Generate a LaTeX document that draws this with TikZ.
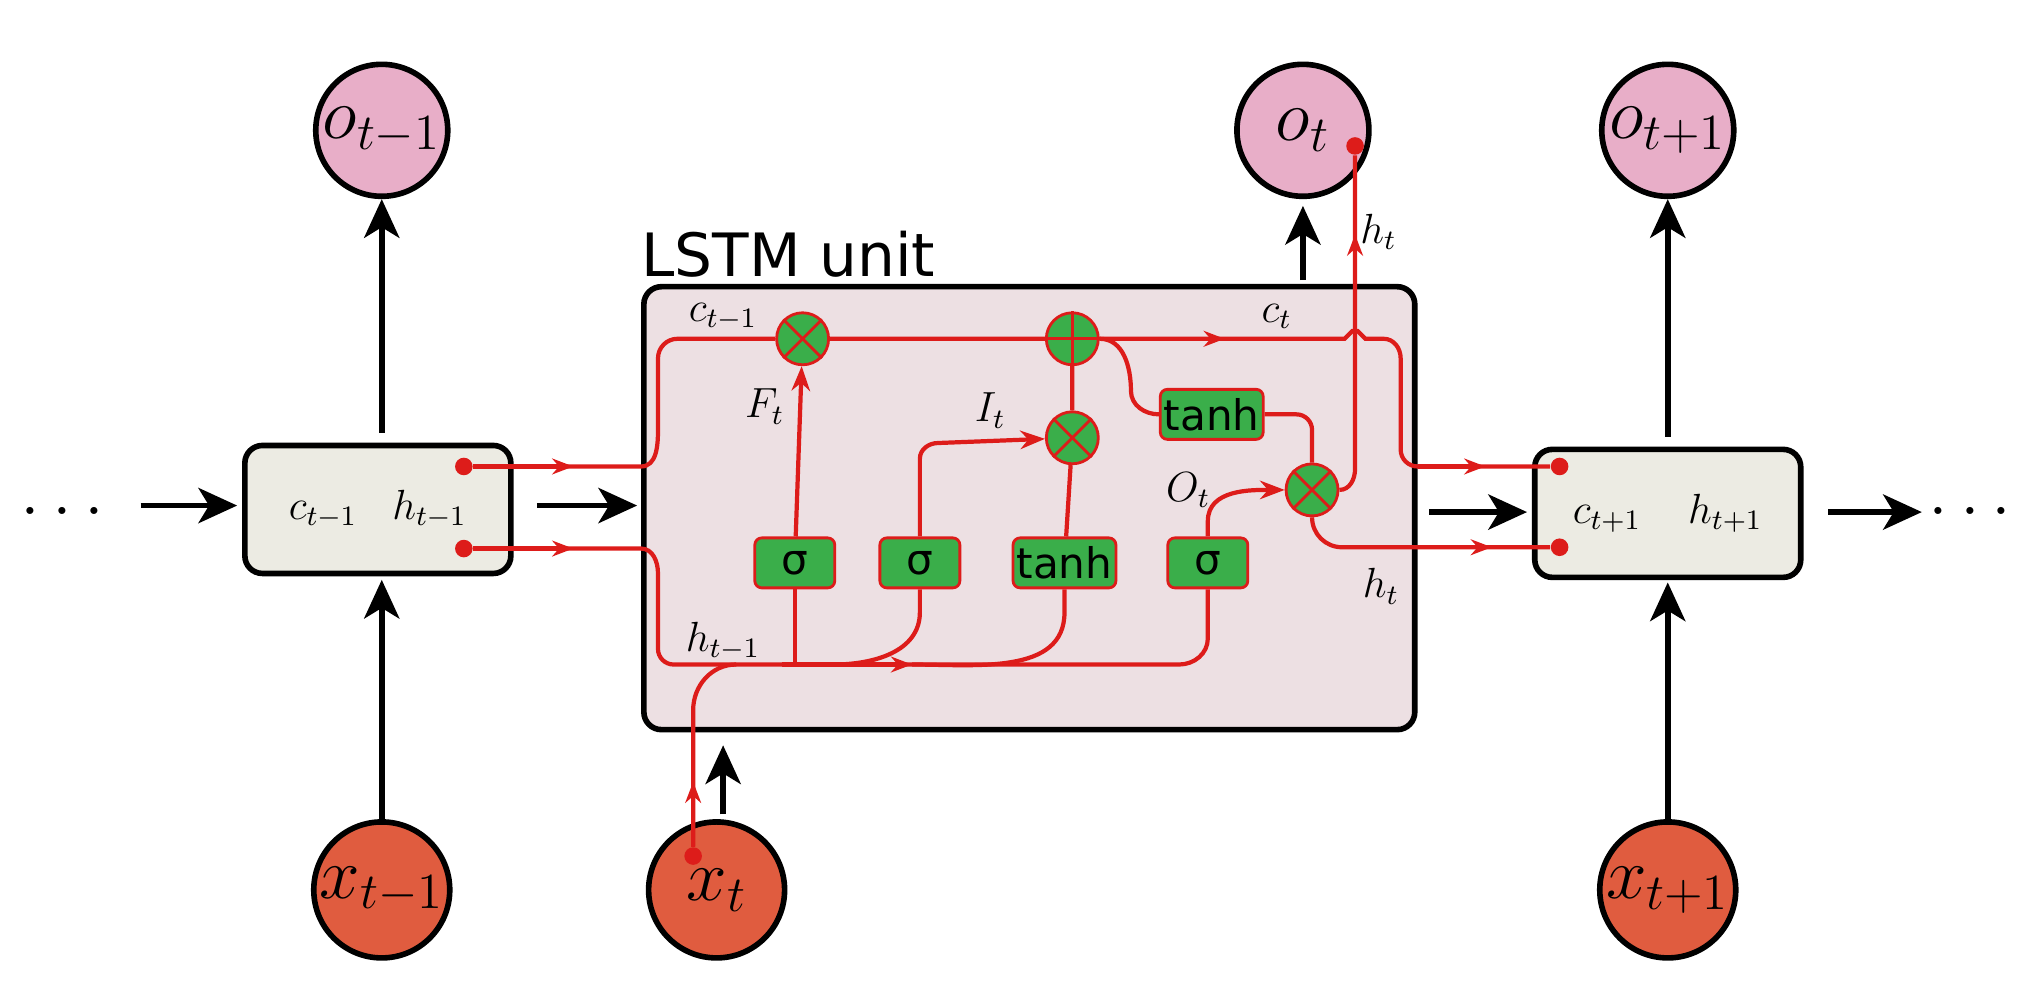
\documentclass[tikz,border=0pt]{standalone}
\usepackage{fontspec}
\setsansfont{DejaVu Sans}
\usetikzlibrary{arrows.meta}
\definecolor{lred}{HTML}{DD1C1A}
\definecolor{gfill}{HTML}{3AAE4A}
\definecolor{pinkc}{HTML}{E8AEC8}
\definecolor{xcol}{HTML}{E05C3F}
\definecolor{boxc}{HTML}{ECEBE3}
\definecolor{unitc}{HTML}{EDE0E3}
\begin{document}
\begin{tikzpicture}[x=0.01303cm,y=-0.01303cm,>={Stealth[length=11pt,width=10pt,inset=3pt]},
	outc/.style={circle,draw,line width=1.6pt,fill=pinkc,minimum size=1.32cm,inner sep=0pt,font=\fontsize{20}{24}\selectfont},
	inc/.style={circle,draw,line width=1.6pt,fill=xcol,minimum size=1.36cm,inner sep=0pt,font=\fontsize{20}{24}\selectfont},
	cell/.style={rectangle,rounded corners=5pt,draw,line width=1.6pt,fill=boxc,minimum width=2.66cm,minimum height=1.28cm,font=\fontsize{12}{14}\selectfont},
	gate/.style={rectangle,rounded corners=2pt,draw=lred,fill=gfill,line width=0.8pt,minimum width=0.8cm,minimum height=0.5cm,inner sep=1pt,font=\sffamily\fontsize{12}{14}\selectfont},
	op/.style={circle,draw=lred,fill=gfill,line width=0.8pt,minimum size=0.52cm,inner sep=0pt},
	blk/.style={->,line width=1.6pt},
	wire/.style={lred,line width=1.2pt},
	lab/.style={font=\fontsize{12}{14}\selectfont},
	dot/.style={circle,fill=lred,inner sep=0pt,minimum size=5pt}]
\useasboundingbox (0,0) rectangle (1568,757);
% cells and circles
\node (unit) [draw,line width=1.6pt,fill=unitc,rounded corners=5pt,minimum width=7.71cm,minimum height=4.43cm] at (790,390) {};
\node [font=\sffamily\fontsize{17}{20}\selectfont] at (605,195) {LSTM unit};
\node (left) [cell] at (290,391) {$c_{t-1}\;\;\;h_{t-1}$};
\node (right) [cell] at (1280,394) {$c_{t+1}\;\;\;\;h_{t+1}$};
\node (oa) [outc] at (293,100) {$o_{t-1}$};
\node (ob) [outc] at (1000,100) {$o_t$};
\node (oc) [outc] at (1280,100) {$o_{t+1}$};
\node (xa) [inc] at (293,683) {$x_{t-1}$};
\node (xb) [inc] at (550,683) {$x_t$};
\node (xc) [inc] at (1280,683) {$x_{t+1}$};
\node (dl) [font=\fontsize{20}{24}\selectfont] at (48,392) {$\dots$};
\node (dr) [font=\fontsize{20}{24}\selectfont] at (1512,392) {$\dots$};
% black arrows
\draw[blk] (293,332) -- (oa);
\draw[blk] (xa) -- (293,445);
\draw[blk] (1280,335) -- (oc);
\draw[blk] (xc) -- (1280,447);
\draw[blk] (108,388) -- (182,388);
\draw[blk] (412,388) -- (489,388);
\draw[blk] (1097,393) -- (1172,393);
\draw[blk] (1403,393) -- (1475,393);
\draw[blk] (1000,215) -- (1000,158);
\draw[blk] (555,625) -- (555,572);
% gates
\node (sf) [gate] at (610,432) {σ};
\node (si) [gate] at (706,432) {σ};
\node (tg) [gate] at (817,432) {tanh};
\node (so) [gate] at (927,432) {σ};
\node (tc) [gate] at (930,318) {tanh};
\node (mf) [op] at (616,260) {};
\node (pc) [op] at (823,260) {};
\node (mi) [op] at (823,336) {};
\node (mo) [op] at (1007,376) {};
\foreach \n in {mf,mi,mo} \draw[lred,line width=0.8pt] (\n.north west) -- (\n.south east) (\n.north east) -- (\n.south west);
\draw[lred,line width=0.8pt] (pc.north) -- (pc.south) (pc.west) -- (pc.east);
% dots
\node (cd) [dot] at (356,358) {};
\node (hd) [dot] at (356,421) {};
\node (cr) [dot] at (1197,358) {};
\node (hr) [dot] at (1197,420) {};
\node (xd) [dot] at (532,657) {};
\node (od) [dot] at (1040,112) {};
% red wiring
\draw[wire] (cd) -- (492,358) to[out=0,in=270] (505,330) -- (505,275) to[out=90,in=180] (520,260) -- (mf);
\draw[wire,-{Stealth[length=6pt]}] (cd) -- (440,358);
\draw[wire] (mf) -- (pc) -- (1032,260) -- (1038,254) -- (1042,254) -- (1048,260) -- (1062,260) to[out=0,in=90] (1075,275) -- (1075,345) to[out=270,in=180] (1088,358) -- (cr);
\draw[wire,-{Stealth[length=6pt]}] (pc) -- (940,260);
\draw[wire,-{Stealth[length=6pt]}] (1088,358) -- (1140,358);
\draw[wire] (hd) -- (492,421) to[out=0,in=90] (505,440) -- (505,498) to[out=270,in=180] (517,510) -- (905,510) to[out=0,in=270] (927,490) -- (so);
\draw[wire,-{Stealth[length=6pt]}] (hd) -- (440,421);
\draw[wire,-{Stealth[length=6pt]}] (600,510) -- (700,510);
\draw[wire] (xd) -- (532,545) to[out=90,in=180] (565,510);
\draw[wire,-{Stealth[length=6pt]}] (xd) -- (532,600);
\draw[wire] (sf) -- (610,510);
\draw[wire] (si) -- (706,470) to[out=270,in=0] (640,510);
\draw[wire] (tg) -- (817,470) to[out=270,in=0] (700,510);
\draw[wire,-{Stealth[length=7pt]}] (sf) -- (mf);
\draw[wire,-{Stealth[length=7pt]}] (si) -- (706,352) to[out=90,in=180] (720,340) -- (mi);
\draw[wire] (tg) -- (mi) -- (pc);
\draw[wire] (pc) to[out=0,in=90] (868,300) to[out=270,in=180] (tc);
\draw[wire] (tc) -- (995,318) to[out=0,in=90] (1007,330) -- (mo);
\draw[wire,-{Stealth[length=7pt]}] (so) -- (927,400) to[out=90,in=180] (mo);
\draw[wire] (mo) to[out=0,in=270] (1040,360) -- (od);
\draw[wire,-{Stealth[length=6pt]}] (1040,360) -- (1040,180);
\draw[wire] (mo) to[out=270,in=180] (1030,420) -- (hr);
\draw[wire,-{Stealth[length=6pt]}] (1030,420) -- (1145,420);
% labels
\node[lab] at (555,243) {$c_{t-1}$};
\node[lab] at (980,243) {$c_t$};
\node[lab] at (587,312) {$F_t$};
\node[lab] at (760,315) {$I_t$};
\node[lab] at (912,376) {$O_t$};
\node[lab] at (555,492) {$h_{t-1}$};
\node[lab] at (1058,178) {$h_t$};
\node[lab] at (1060,450) {$h_t$};
\end{tikzpicture}
\end{document}
